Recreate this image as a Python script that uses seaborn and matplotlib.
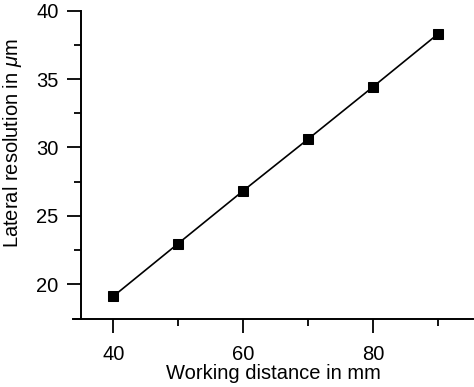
import matplotlib
matplotlib.use("Agg")
from matplotlib import pyplot as plt
from matplotlib.ticker import MultipleLocator
import seaborn as sns
import pandas as pd

# values
working_distance = [40, 50, 60, 70, 80, 90]
lateral_resolution = [19.12, 22.98, 26.83, 30.61, 34.43, 38.29]

sns.set_style("ticks")
plt.rcParams['font.family'] = ['Liberation Sans', 'DejaVu Sans']
plt.rcParams['mathtext.fontset'] = 'custom'
plt.rcParams['mathtext.rm'] = 'Liberation Sans'
plt.rcParams['mathtext.it'] = 'Liberation Sans:italic'
plt.rcParams['text.color'] = 'black'
plt.rcParams['axes.labelcolor'] = 'black'
plt.rcParams['xtick.color'] = 'black'
plt.rcParams['ytick.color'] = 'black'
plt.rcParams['axes.edgecolor'] = 'black'

df = pd.DataFrame({"x": working_distance, "y": lateral_resolution})

fig = plt.figure(figsize=(4.74, 3.87), dpi=100)
ax = fig.add_axes([0.1547, 0.177, 0.843, 0.7954])

sns.lineplot(
    data=df, x="x", y="y", ax=ax,
    color="black", linewidth=1.2,
    marker="s", markersize=6.5, markeredgecolor="black", markerfacecolor="black",
)

ax.set_xlim(33.85, 95.4)
ax.set_ylim(17.5, 40)
ax.spines['left'].set_position(('data', 35))
ax.spines['top'].set_visible(False)
ax.spines['right'].set_visible(False)
for s in ('left', 'bottom'):
    ax.spines[s].set_linewidth(1.4)

ax.xaxis.set_major_locator(MultipleLocator(20))
ax.xaxis.set_minor_locator(MultipleLocator(10))
ax.yaxis.set_major_locator(MultipleLocator(5))
ax.yaxis.set_minor_locator(MultipleLocator(2.5))
ax.tick_params(which='major', direction='out', length=10, width=1.3,
               labelsize=14.5, pad=6, colors='black')
ax.tick_params(axis='x', which='major', pad=9)
ax.tick_params(which='minor', direction='out', length=5.3, width=1.3, color='black')

ax.set_xlabel('Working distance in mm', fontsize=14.5, labelpad=0)
ax.set_ylabel(r'Lateral resolution in $\mu$m', fontsize=14.5)
ax.yaxis.set_label_coords(-0.124, 0.569)

fig.savefig("out.png", dpi=100)
